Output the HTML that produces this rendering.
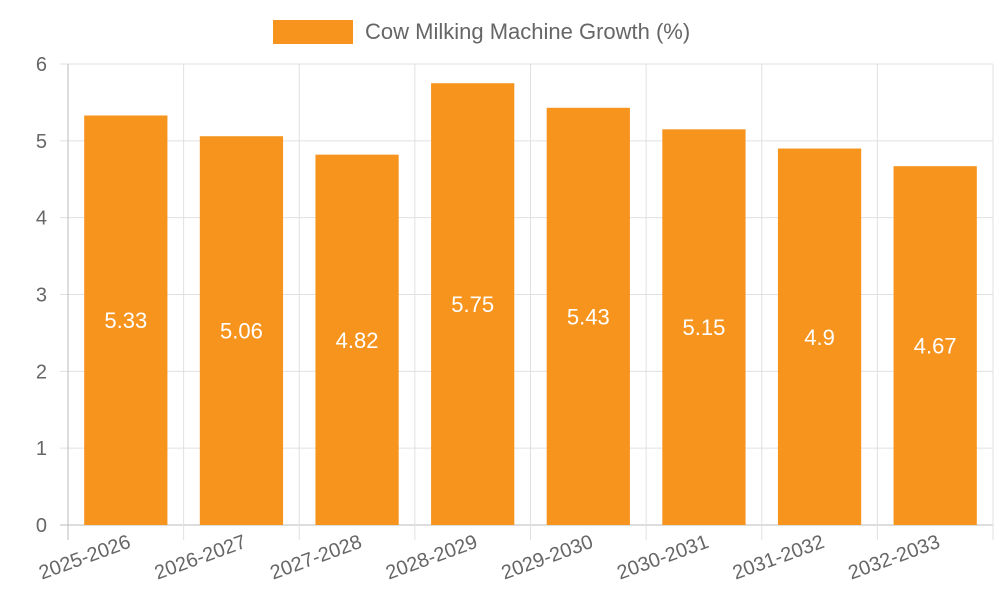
<!DOCTYPE html>
<html><head><meta charset="utf-8"><style>
body{margin:0;background:#fff;}
svg text{font-family:"Liberation Sans",sans-serif;}
</style></head><body>
<svg id="chart" width="1000" height="600"></svg>
<script>
const categories=["2025-2026","2026-2027","2027-2028","2028-2029","2029-2030","2030-2031","2031-2032","2032-2033"];
const values=[5.33,5.06,4.82,5.75,5.43,5.15,4.9,4.67];
const yTicks=[0,1,2,3,4,5,6];
const svg=document.getElementById('chart');
const NS='http://www.w3.org/2000/svg';
const L=68,R=993,T=64,B=525,yMax=6;
const y=v=>B-(v/yMax)*(B-T);
const bw=(R-L)/categories.length;
const x=i=>L+i*bw;
function mk(tag,attrs,name,text){const e=document.createElementNS(NS,tag);for(const k in attrs)e.setAttribute(k,attrs[k]);


if(text!==undefined)e.textContent=text;svg.appendChild(e);return e;}
yTicks.forEach(t=>{
 mk('line',{x1:L-8,x2:R,y1:y(t),y2:y(t),stroke:t===0?'#bbb':'#e0e0e0','stroke-width':1},'y-gridline');
 mk('text',{x:47,y:y(t)+7,'text-anchor':'end','font-size':20,fill:'#666'},'y-tick-label',String(t));
});
for(let i=0;i<=categories.length;i++){
 mk('line',{x1:x(i),x2:x(i),y1:T,y2:B+15,stroke:i===0?'#bbb':'#e0e0e0','stroke-width':1},'x-gridline');
}
values.forEach((v,i)=>{
 const bx=x(i)+bw*0.14,w=bw*0.72;
 mk('rect',{x:bx,y:y(v),width:w,height:B-y(v),fill:'#f7941e'},'bar-'+categories[i]);
 mk('text',{x:bx+w/2,y:(y(v)+B)/2+8,'text-anchor':'middle','font-size':22,fill:'#fff'},'value-label',String(v));
});
categories.forEach((c,i)=>{
 const cx=x(i)+bw/2+6,cy=B+22;
 mk('text',{x:cx,y:cy,'text-anchor':'end','font-size':20,fill:'#666',transform:`rotate(-20 ${cx} ${cy})`},'x-tick-label',c);
});
mk('line',{x1:L,x2:L,y1:T,y2:B,stroke:'#bbb'},'y-axis-line');
mk('rect',{x:273,y:20,width:80,height:24,fill:'#f7941e'},'legend-swatch');
mk('text',{x:365,y:39,'font-size':22,fill:'#666'},'legend-label','Cow Milking Machine Growth (%)');
</script>
</body></html>
